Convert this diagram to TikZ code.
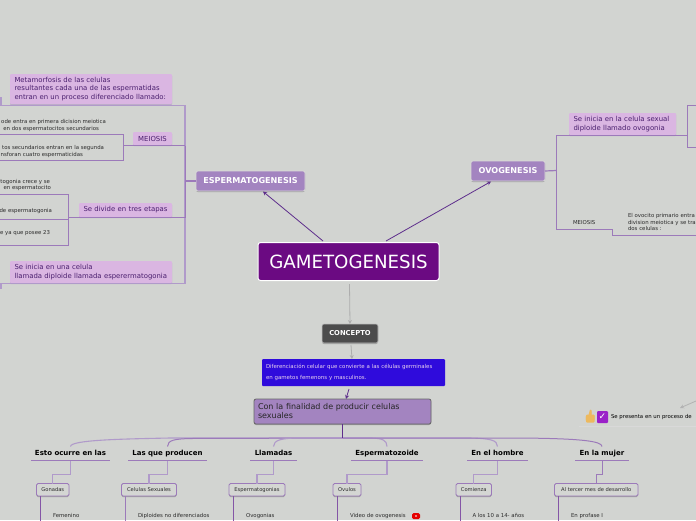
\documentclass[tikz,border=0pt]{standalone}
\usepackage{fontspec}
\setmainfont{DejaVu Sans}
\newfontfamily\emojifont{Noto Emoji}
\usetikzlibrary{calc,arrows.meta,shadows}
\definecolor{bgc}{HTML}{D2D4D1}
\definecolor{linep}{HTML}{9C7ABA}
\definecolor{linel}{HTML}{B09ACA}
\definecolor{lilac}{HTML}{DAB6E2}
\definecolor{lilact}{HTML}{4A1F6E}
\definecolor{midp}{HTML}{A384C0}
\definecolor{deepp}{HTML}{6B0A82}
\definecolor{arrowp}{HTML}{5E2E8C}
\definecolor{leafv}{HTML}{8455A6}
\definecolor{txt}{HTML}{2B2B2B}
\definecolor{blueb}{HTML}{2F0BDC}
\definecolor{chkc}{HTML}{9A20C8}
\definecolor{thumbc}{HTML}{EDB95E}
\newcommand{\fs}[2]{\fontsize{#1}{#2}\selectfont}
\tikzset{
  every node/.style={inner sep=0pt,outer sep=0pt},
  softshadow/.style={drop shadow={shadow xshift=0pt,shadow yshift=-1pt,fill=black,opacity=.25}},
  lilacshadow/.style={drop shadow={shadow xshift=0pt,shadow yshift=-1pt,fill=linep,opacity=.45}},
  lilacbox/.style={fill=lilac,text=lilact,rounded corners=1pt,anchor=north west,align=left,inner xsep=4.5pt,font=\fs{6.9}{8.5},lilacshadow},
  midbox/.style={fill=midp,draw=white!85!black,line width=.7pt,text=white,rounded corners=2pt,font=\bfseries\fs{8.1}{9},softshadow,align=center},
  small/.style={text=txt,font=\fs{5.4}{6.6},align=left},
  smallr/.style={small,anchor=east,align=right,text height=4pt,text depth=1.2pt},
  smalll/.style={small,anchor=west,text height=4pt,text depth=1.2pt},
  title/.style={text=black,font=\bfseries\fs{7}{8},minimum height=14pt,anchor=center,text height=5.4pt,text depth=1.5pt},
  leafbox/.style={fill=bgc!96!white,draw=linep,line width=.8pt,rounded corners=1.5pt,text=txt,font=\fs{5.2}{6},minimum height=12.5pt,anchor=north west,softshadow,align=center,text height=4pt,text depth=1.2pt},
  branch/.style={draw=linep,line width=1pt},
  lbranch/.style={draw=linel,line width=1.1pt},
  conn/.style={draw=arrowp,line width=.8pt,-{Stealth[length=4pt,width=4pt]}},
  gconn/.style={draw=black!32,line width=.8pt,-{Stealth[length=4pt,width=4pt]}},
}
\begin{document}
\begin{tikzpicture}[x=1pt,y=-1pt]
\useasboundingbox (0,0) rectangle (696,520);
\fill[bgc] (0,0) rectangle (696,520);
\clip (0,0) rectangle (696,520);

% central
\node[fill=deepp,draw=white,line width=1pt,rounded corners=2.5pt,text=white,minimum width=181pt,minimum height=38pt,font=\fs{18.2}{20}] (main) at (348.5,261.5) {GAMETOGENESIS};
\node[midbox,minimum width=109pt,minimum height=20pt] (esp) at (250.5,181) {ESPERMATOGENESIS};
\node[midbox,minimum width=74pt,minimum height=20pt] (ovo) at (508,171) {OVOGENESIS};
\node[fill=black!70,draw=black!25,line width=.6pt,rounded corners=2pt,text=white,font=\bfseries\fs{6.8}{8},minimum width=56pt,minimum height=19pt,softshadow] (con) at (350,333.5) {CONCEPTO};
\node[fill=blueb,text=lilac!60!white,rounded corners=1pt,minimum width=183pt,minimum height=27pt,anchor=north west,align=left,font=\fs{5.45}{11},inner xsep=4pt,text width=175pt] (dif) at (262,359) {Diferenciación celular que convierte a las células germinales\\en gametos femenons y masculinos.};
\node[fill=midp,draw=black!60,line width=.8pt,rounded corners=2pt,text=black!85,minimum width=177pt,minimum height=25pt,anchor=north west,align=left,font=\fs{8}{9},inner xsep=4pt,text width=169pt,softshadow] (fin) at (254,399) {Con la finalidad de producir celulas\\sexuales};

% main connectors
\coordinate (a1) at (323,241); \coordinate (e1) at (263,191.5);
\coordinate (a2) at (386,241); \coordinate (o1) at (491,181.5);
\draw[conn] (a1) -- (e1);
\draw[conn] (a2) -- (o1);
\draw[gconn] (349.5,284) coordinate (g1) -- (con.north);
\draw[gconn] ($(con.south)+(1,2)$) -- ($(dif.north)+(-1.5,0)$);
\draw[conn] ($(dif.south)+(-4.5,3)$) -- ($(fin.north)+(3.5,0)$);

% left side boxes
\node[lilacbox,minimum width=162pt,minimum height=30pt,text width=153pt] (meta) at (10,74) {Metamorfosis de las celulas\\resultantes cada una de las espermatidas\\entran en un proceso diferenciado llamado:};
\node[lilacbox,minimum width=39pt,minimum height=13pt,align=center,text width=30pt] (mei) at (133,132) {MEIOSIS};
\node[lilacbox,minimum width=93pt,minimum height=14pt,text width=84pt] (div) at (79,203) {Se divide en tres etapas};
\node[lilacbox,minimum width=162pt,minimum height=22pt,text width=153pt] (ini) at (10,261) {Se inicia en una celula\\llamada diploide llamada esperermatogonia};

% left trunk
\coordinate (t1) at (185,105.5); \coordinate (t2) at (185,283.5); \coordinate (t3) at (185,145.5); \coordinate (t4) at (185,217.5); \coordinate (t5) at (185,181);
\coordinate (l1) at (0,105.5); \coordinate (l2) at (0,283.5);
\draw[lbranch] (l1) -- (t1) -- (t2) -- (l2);
\draw[branch,line width=1.2pt] (esp.west) -- (t5);
\draw[branch] (t5) -- (t3);
\draw[branch] (t5) -- (t4);
\coordinate (tk) at (0,98); \draw[lbranch] (tk) -- (1,98) -- (1,105.5);
\coordinate (tk2) at (0,288); \draw[lbranch] (1,283.5) -- (1,288) -- (tk2);

% MEIOSIS bracket
\coordinate (m0) at (123,145.5); \coordinate (m1) at (123,134.5); \coordinate (m2) at (123,160.5);
\coordinate (m1l) at (0,134.5); \coordinate (m2l) at (0,160.5);
\draw[branch] (t3) -- (m0);
\draw[branch] (m1l) -- (m1) -- (m2) -- (m2l);
% divide bracket
\coordinate (d0) at (68.5,217.5); \coordinate (d1) at (68.5,194.5); \coordinate (d2) at (68.5,245.5); \coordinate (d3) at (68.5,219.5);
\coordinate (d1l) at (0,194.5); \coordinate (d2l) at (0,245.5); \coordinate (d3l) at (0,219.5);
\draw[branch] (t4) -- (d0);
\draw[branch] (d1l) -- (d1) -- (d2) -- (d2l);
\draw[branch] (d3l) -- (d3);

% left small clipped texts
\node[smallr] (s1) at (106,122.5) {ode entra en primera dicision meiotica};
\node[smallr] (s2) at (99,129) {en dos espermatocitos secundarios};
\node[smallr] (s3) at (104,148.5) {tos secundarios entran en la segunda};
\node[smallr] (s4) at (83,155) {nsforan cuatro espermaticidas};
\node[smallr] (s5) at (50,182) {togonia crece y se};
\node[smallr] (s6) at (51,188) {en espermatocito};
\node[smallr] (s7) at (52,211) {de espermatogonia};
\node[smallr] (s8) at (50,233) {e ya que posee 23};

% right side
\node[lilacbox,minimum width=107pt,minimum height=22pt,text width=98pt] (rini) at (569,113) {Se inicia en la celula sexual\\diploide llamado ovogonia};
\coordinate (r0) at (556.7,170.5); \coordinate (r1) at (556.7,135.5); \coordinate (r2) at (556.7,229);
\coordinate (r3) at (687,135.5); \coordinate (r4) at (687,105); \coordinate (r5) at (687,147);
\coordinate (r4r) at (696,105); \coordinate (r5r) at (696,147);
\draw[branch,line width=1.2pt] (ovo.east) -- (r0);
\draw[branch] (r3) -- (r1) -- (r2) -- (612,229) -- (612,235.5) -- (696,235.5) coordinate (r6);
\draw[branch] (r4r) -- (r4) -- (r5) -- (r5r);
\node[smalll] (rm) at (573,223) {MEIOSIS};
\node[small,anchor=north west] (rt) at (628,213.5) {El ovocito primario entra\\division meiotica y se tra\\dos celulas :};

% right-edge item
\fill[thumbc,rounded corners=1pt] (586,414.5) rectangle (594.5,422.5);
\fill[thumbc,rounded corners=.5pt] (588.5,415) -- (590,409.5) -- (591.5,410) -- (591.5,415) -- cycle;
\node[text=thumbc,font=\emojifont\fs{10}{11}] (thumb) at (590.5,417) {👍};
\node[fill=chkc,rounded corners=1pt,minimum width=11pt,minimum height=12pt,text=white,font=\bfseries\fs{9}{9}] (chk) at (602.5,417) {✓};
\node[smalll,text=black] (pres) at (611,417) {Se presenta en un proceso de};
\coordinate (pl) at (579,426.5); \coordinate (pr) at (696,426.5);
\draw[draw=black!15,line width=.7pt] (pl) -- (pr);
\coordinate (ga) at (696,401); \coordinate (gb) at (680,408);
\draw[gconn,draw=black!30] (ga) -- (gb);

% bottom trunk
\node[title,minimum width=79pt] (t-a) at (70.5,453.5) {Esto ocurre en las};
\node[title,minimum width=79pt] (t-b) at (167.5,453.5) {Las que producen};
\node[title,minimum width=47pt] (t-c) at (273.5,453.5) {Llamadas};
\node[title,minimum width=72pt] (t-d) at (387,453.5) {Espermatozoide};
\node[title,minimum width=61pt] (t-e) at (497.5,453.5) {En el hombre};
\node[title,minimum width=54pt] (t-f) at (602,453.5) {En la mujer};
\foreach \n in {a,b,c,d,e,f}{\draw[branch] (t-\n.south west) -- (t-\n.south east);}

\coordinate (hub) at (342.5,438);
\draw[lbranch] (hub) -- (170,438) .. controls (120,439) and (70.5,440) .. (t-a.north);
\draw[branch] (hub) -- (190,438.5) .. controls (175,439) and (167.5,440) .. (t-b.north);
\draw[lbranch] (hub) -- (295,438) .. controls (282,438.5) and (273.5,440) .. (t-c.north);
\draw[lbranch] (hub) -- (372,438) .. controls (382,438.5) and (387,440) .. (t-d.north);
\draw[lbranch] (hub) -- (470,438) .. controls (490,438.5) and (497.5,440) .. (t-e.north);
\draw[branch] (hub) -- (520,438) .. controls (580,438.5) and (602,441) .. (t-f.north);
\draw[draw=arrowp,line width=1.1pt] (fin.south -| hub) -- (hub);

% leaves
\node[leafbox,minimum width=32.5pt] (b-a) at (36.5,483.5) {Gonadas};
\node[leafbox,minimum width=55pt] (b-b) at (121.5,483.5) {Celulas Sexuales};
\node[leafbox,minimum width=56pt] (b-c) at (229,483.5) {Espermatogonias};
\node[leafbox,minimum width=28pt] (b-d) at (333,483.5) {Ovulos};
\node[leafbox,minimum width=35.5pt] (b-e) at (456,483.5) {Comienza};
\node[leafbox,minimum width=83.5pt] (b-f) at (554.5,483.5) {Al tercer mes de desarrollo};
\foreach \n/\c in {a/lbranch,b/lbranch,c/lbranch,d/lbranch,e/lbranch,f/branch}{
  \draw[\c] (t-\n.south) |- ($(b-\n.north)+(0,-9)$) -- (b-\n.north);
}
\foreach \n/\c in {a/leafv,b/linep,c/leafv,d/leafv,e/leafv,f/leafv}{
  \draw[draw=\c,line width=1pt] ($(b-\n.south west)+(4,0)$) -- ($(b-\n.south west)+(4,26)$);
}
\node[smalll] (n-a) at (53,516) {Femenino};
\node[smalll] (n-b) at (138,516) {Diploides no diferenciados};
\node[smalll] (n-c) at (246,516) {Ovogonias};
\node[smalll] (n-d) at (350,516) {Video de ovogenesis};
\node[smalll] (n-e) at (472.5,516) {A los 10 a 14- años};
\node[smalll] (n-f) at (571,516) {En profase I};
\node[fill=red!90!black,rounded corners=1.5pt,minimum width=8pt,minimum height=6pt] (rec) at (416,516) {};
\fill[white] (rec.center) circle (.8pt);
\end{tikzpicture}
\end{document}
